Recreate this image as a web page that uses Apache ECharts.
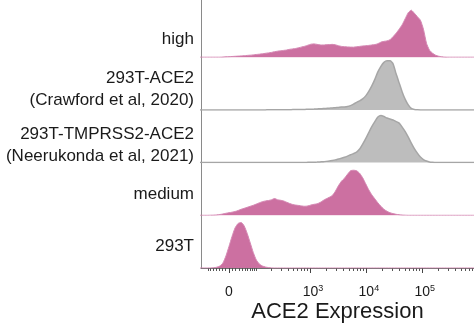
<!DOCTYPE html>
<html>
<head>
<meta charset="utf-8">
<script src="https://cdn.jsdelivr.net/npm/echarts@6/dist/echarts.min.js"></script>
<style>
  html, body { margin: 0; padding: 0; background: #fff; }
  #chart { width: 474px; height: 333px; }
</style>
</head>
<body>
<div id="chart"></div>
<script>
// Samples, top to bottom
const sampleNames = [
  'high',
  '293T-ACE2\n(Crawford et al, 2020)',
  '293T-TMPRSS2-ACE2\n(Neerukonda et al, 2021)',
  'medium',
  '293T'
];
const samplePalette = ['pink', 'gray', 'gray', 'pink', 'pink'];

// Histogram bins on the biexponential display scale (asinh units)
const binStart = -1.25;
const binWidth = 0.125;

// Cell counts per bin, normalised so the tallest mode is about 100
const highCounts = [0, 0,
  0, 0, 0, 0, 0, 0, 0.4, 0.9, 1.1, 1.5,
  1.9, 2.3, 2.8, 3.2, 3.8, 4.3, 4.9, 5.8, 6.4, 7.2,
  8.3, 9.2, 10.2, 11.7, 12.8, 13.6, 14.5, 15.3, 16.8, 17.7,
  18.7, 20.2, 21.9, 23.4, 25.6, 27.7, 28.3, 27.3, 26.2, 26.0,
  26.6, 26.8, 27.3, 26.4, 24.5, 23.0, 22.4, 21.9, 21.5, 21.3,
  22.2, 23.0, 23.9, 24.5, 25.1, 26.0, 26.8, 28.8, 32.0, 33.7,
  34.7, 37.3, 43.7, 51.1, 59.6, 69.2, 82.0, 94.8, 100, 93.7,
  86.3, 78.8, 59.6, 29.8, 14.9, 8.5, 4.3, 2.1, 0.9, 0.2,
  0, 0, 0, 0, 0, 0, 0, 0, 0, 0];
const ace2Counts = [0, 0,
  0, 0, 0, 0, 0, 0, 0, 0, 0, 0,
  0, 0, 0, 0, 0, 0, 0, 0, 0, 0,
  0, 0.2, 0.2, 0.2, 0.3, 0.3, 0.3, 0.4, 0.4, 0.6,
  0.6, 0.6, 0.9, 1.1, 1.3, 1.5, 1.7, 2.1, 2.3, 2.8,
  3.2, 3.6, 4.3, 4.7, 5.3, 6.0, 6.4, 7.2, 9.2, 12.4,
  16.0, 19.2, 23.4, 29.8, 39.4, 51.1, 65.0, 80.9, 92.7, 101.2,
  104.4, 104.4, 98.0, 76.7, 57.5, 38.3, 22.4, 10.7, 3.2, 0.9,
  0.2, 0, 0, 0, 0, 0, 0, 0, 0, 0,
  0, 0, 0, 0, 0, 0, 0, 0, 0, 0];
const tmprss2Counts = [0, 0,
  0, 0, 0, 0, 0, 0, 0, 0, 0, 0,
  0, 0, 0, 0, 0, 0, 0, 0, 0, 0,
  0, 0, 0, 0, 0, 0, 0, 0, 0.2, 0.2,
  0.3, 0.3, 0.4, 0.4, 0.5, 0.6, 0.9, 1.1, 1.5, 1.9,
  2.6, 3.4, 4.5, 5.8, 7.5, 9.2, 11.3, 13.8, 16.6, 19.2,
  22.4, 28.8, 39.4, 51.1, 63.9, 76.7, 87.3, 96.9, 100.1, 98.0,
  94.8, 92.7, 90.5, 87.3, 84.1, 75.6, 66.0, 54.3, 41.5, 29.8,
  20.2, 11.7, 6.4, 3.4, 1.5, 0.6, 0, 0, 0, 0,
  0, 0, 0, 0, 0, 0, 0, 0, 0, 0];
const mediumCounts = [0, 0,
  0, 0, 0.2, 0.4, 0.9, 1.7, 2.8, 4.3, 5.5, 6.6,
  8.1, 10.2, 12.8, 14.9, 17.0, 19.2, 21.3, 23.9, 26.6, 29.0,
  30.5, 31.5, 33.0, 35.8, 33.0, 32.0, 30.5, 27.7, 25.1, 23.0,
  21.7, 20.9, 19.8, 19.2, 20.0, 21.9, 23.4, 24.5, 27.3, 31.5,
  35.1, 38.3, 42.2, 51.1, 62.8, 72.4, 78.8, 87.3, 94.8, 95.9,
  94.8, 89.5, 79.9, 67.1, 54.3, 43.7, 35.1, 26.6, 19.2, 12.8,
  8.5, 5.5, 3.6, 2.1, 1.3, 0.6, 0.2, 0, 0, 0,
  0, 0, 0, 0, 0, 0, 0, 0, 0, 0,
  0, 0, 0, 0, 0, 0, 0, 0, 0, 0];
const parentCounts = [0, 0,
  0, 0, 0.2, 0.6, 1.7, 4.3, 10.7, 25.6, 45.8, 67.1,
  85.2, 94.8, 96.9, 89.5, 73.5, 53.3, 33.0, 17.0, 8.5, 4.3,
  2.1, 0.9, 0.2, 0, 0, 0, 0, 0, 0, 0,
  0, 0, 0, 0, 0, 0, 0, 0, 0, 0,
  0, 0, 0, 0, 0, 0, 0, 0, 0, 0,
  0, 0, 0, 0, 0, 0, 0, 0, 0, 0,
  0, 0, 0, 0, 0, 0, 0, 0, 0, 0,
  0, 0, 0, 0, 0, 0, 0, 0, 0, 0,
  0, 0, 0, 0, 0, 0, 0, 0, 0, 0];
const sampleCounts = [highCounts, ace2Counts, tmprss2Counts, mediumCounts, parentCounts];

// Axis: ACE2 expression on a biexponential (asinh) scale
const axisTitle = 'ACE2 Expression';
const linearWidth = 71.7;
const axisRange = [-102, 855000];
const majorTicks = [0, 1e3, 1e4, 1e5];
const majorTickBase = ['0', '10', '10', '10'];
const majorTickExponent = ['', '3', '4', '5'];

const toDisplay = v => Math.asinh(v / linearWidth);

const minorTicks = [];
for (let k = -7; k <= 9; k++) if (k !== 0) minorTicks.push(k * 10);
for (let m = 1; m <= 9; m++) minorTicks.push(m * 100);
[1e3, 1e4, 1e5].forEach(p => { for (let m = 2; m <= 9; m++) minorTicks.push(m * p); });
const minorTickPositions = minorTicks.filter(v => v > axisRange[0] && v < axisRange[1]).map(toDisplay);
const majorTickPositions = majorTicks.map(toDisplay);

// Layout of the stacked rows
const FONT = "'Liberation Sans', Arial, sans-serif";
const plotLeft = 201;
const rowHeight = 52.7;
const firstRowHeight = 57.2;
const pxPerCount = 0.47;
const labelRight = 194;
const labelShift = [10.4, 5.5, 8.7, 5, 4.7];
const colors = {
  pink: { fill: '#cc70a1', line: '#d488b3' },
  gray: { fill: '#bdbdbd', line: '#a6a6a6' }
};

const xMin = toDisplay(axisRange[0]);
const xMax = toDisplay(axisRange[1]);

const grids = [], xAxes = [], yAxes = [], series = [], labels = [];
sampleNames.forEach((name, r) => {
  const h = r === 0 ? firstRowHeight : rowHeight;
  const top = r === 0 ? 0 : firstRowHeight + (r - 1) * rowHeight;
  grids.push({ left: plotLeft, right: 0, top: top, height: h });
  const isBottom = r === sampleNames.length - 1;
  xAxes.push({
    type: 'value', gridIndex: r, min: xMin, max: xMax, position: 'bottom',
    show: isBottom,
    axisLine: { show: true, onZero: false, lineStyle: { color: '#6f6f6f', width: 1 } },
    axisTick: { show: true, customValues: majorTickPositions, length: 5, lineStyle: { color: '#444', width: 1 } },
    axisLabel: {
      show: true, customValues: majorTickPositions, margin: 16,
      formatter: (val) => {
        let idx = 0, best = Infinity;
        majorTickPositions.forEach((p, i) => { const d = Math.abs(p - val); if (d < best) { best = d; idx = i; } });
        return majorTickExponent[idx]
          ? '{pw|' + majorTickBase[idx] + '}{sup|' + majorTickExponent[idx] + '}'
          : '{base|' + majorTickBase[idx] + '}';
      },
      rich: {
        base: { fontFamily: FONT, fontSize: 14, color: '#1a1a1a', lineHeight: 16 },
        pw: { fontFamily: FONT, fontSize: 14, color: '#1a1a1a', lineHeight: 16, padding: [0, 0, 0, 6] },
        sup: { fontFamily: FONT, fontSize: 9, color: '#1a1a1a', lineHeight: 16, verticalAlign: 'top', padding: [0, 0, 6, 0] }
      }
    },
    splitLine: { show: false },
    name: isBottom ? axisTitle : '',
    nameLocation: 'middle', nameGap: 33,
    nameTextStyle: { fontFamily: FONT, fontSize: 22, color: '#1a1a1a' }
  });
  yAxes.push({
    type: 'value', gridIndex: r, min: 0, max: h / pxPerCount,
    axisLine: { show: true, onZero: false, lineStyle: { color: '#8a8a8a', width: 1 } },
    axisTick: { show: false }, axisLabel: { show: false }, splitLine: { show: false }
  });
  // Sample name, right-aligned against the left axis of its row
  labels.push({
    type: 'text',
    x: labelRight, y: top + h / 2 + labelShift[r],
    style: {
      text: name, font: '17px ' + FONT, fill: '#1a1a1a', lineHeight: 22,
      align: 'right', verticalAlign: 'middle'
    }
  });
  const c = colors[samplePalette[r]];
  series.push({
    type: 'line', xAxisIndex: r, yAxisIndex: r,
    data: sampleCounts[r].map((v, i) => [binStart + i * binWidth, v]),
    showSymbol: false, smooth: 0.2,
    lineStyle: { color: c.line, width: samplePalette[r] === 'gray' ? 1.5 : 1 },
    areaStyle: { color: c.fill, opacity: 1 },
    z: 2
  });
});

// Minor ticks of the expression axis
xAxes.push({
  type: 'value', gridIndex: sampleNames.length - 1, min: xMin, max: xMax, position: 'bottom',
  axisLine: { show: false },
  axisTick: { show: true, customValues: minorTickPositions, length: 3, lineStyle: { color: '#555', width: 1 } },
  axisLabel: { show: false }, splitLine: { show: false }
});

const chart = echarts.init(document.getElementById('chart'), null, { renderer: 'canvas' });
chart.setOption({
  animation: false,
  backgroundColor: '#ffffff',
  grid: grids,
  xAxis: xAxes,
  yAxis: yAxes,
  series: series,
  graphic: labels
});
</script>
</body>
</html>
